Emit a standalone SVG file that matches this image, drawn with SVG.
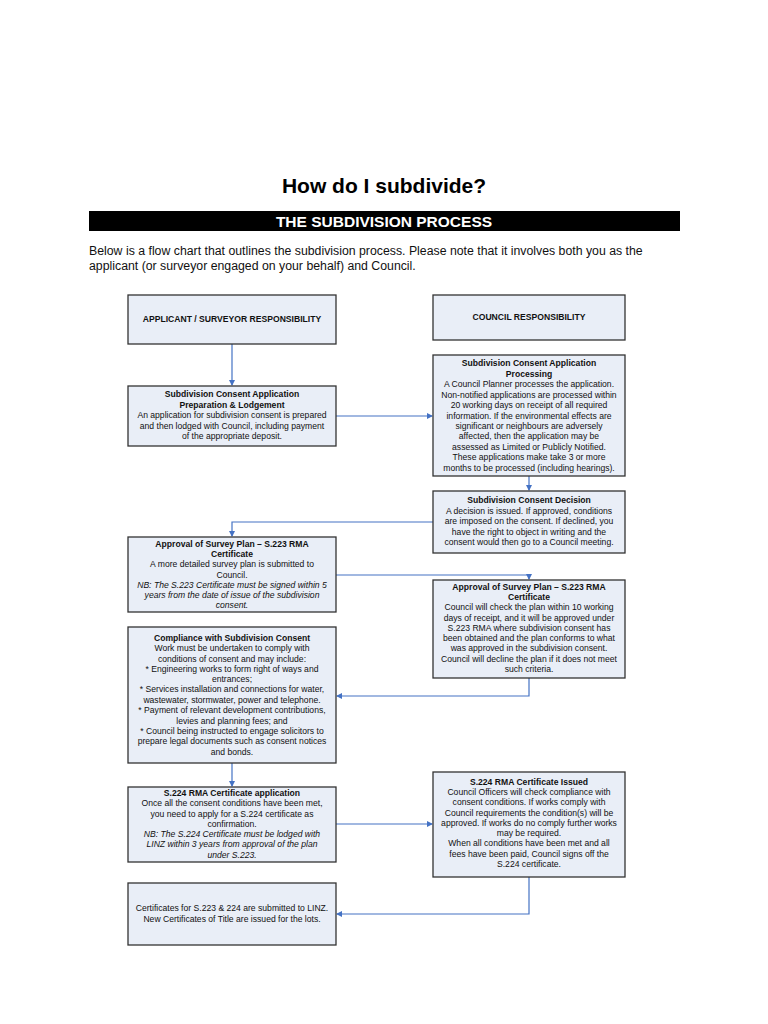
<svg xmlns="http://www.w3.org/2000/svg" width="768" height="1024" viewBox="0 0 768 1024">
<defs>
<marker id="ah" viewBox="0 0 6 6" refX="5" refY="3" markerWidth="5" markerHeight="5" orient="auto"><path d="M0,0L6,3L0,6z" fill="#4472c4"/></marker>
</defs>
<style>
.b{fill:#e9eef7;stroke:#333;stroke-width:1.3}
.t{font-family:"Liberation Sans",Arial,sans-serif;font-size:8.6px;fill:#111;text-anchor:middle}
.h{font-weight:bold}
.i{font-style:italic}
.c{fill:none;stroke:#4472c4;stroke-width:1.2;marker-end:url(#ah)}
</style>
<rect width="768" height="1024" fill="#fff"/>
<text x="384" y="193" font-family="Liberation Sans,Arial,sans-serif" font-size="21" font-weight="bold" text-anchor="middle">How do I subdivide?</text>
<rect x="89" y="211" width="591" height="20" fill="#000"/>
<text x="384" y="227" font-family="Liberation Sans,Arial,sans-serif" font-size="15.5" font-weight="bold" fill="#fff" text-anchor="middle">THE SUBDIVISION PROCESS</text>
<text font-family="Liberation Sans,Arial,sans-serif" font-size="12.3" fill="#111"><tspan x="89" y="255">Below is a flow chart that outlines the subdivision process. Please note that it involves both you as the</tspan><tspan x="89" y="270">applicant (or surveyor engaged on your behalf) and Council.</tspan></text>
<g id="connectors">
<path class="c" d="M232,344V385"/>
<path class="c" d="M336,416H432"/>
<path class="c" d="M529,476V490"/>
<path class="c" d="M433,522H232V536"/>
<path class="c" d="M336,575H529V579"/>
<path class="c" d="M529,678V696H337"/>
<path class="c" d="M232,763V786"/>
<path class="c" d="M336,824H432"/>
<path class="c" d="M529,877V914H337"/>
</g>
<g id="n1"><rect class="b" x="128" y="295" width="208" height="49"/><text class="t h" x="232" y="322">APPLICANT / SURVEYOR RESPONSIBILITY</text></g>
<g id="n2"><rect class="b" x="433" y="295" width="192" height="45"/><text class="t h" x="529" y="320">COUNCIL RESPONSIBILITY</text></g>
<g id="n3"><rect class="b" x="128" y="386" width="208" height="60"/><text class="t"><tspan class="h" x="232" y="397">Subdivision Consent Application</tspan><tspan class="h" x="232" y="407.5">Preparation &amp; Lodgement</tspan><tspan x="232" y="418">An application for subdivision consent is prepared</tspan><tspan x="232" y="428.5">and then lodged with Council, including payment</tspan><tspan x="232" y="439">of the appropriate deposit.</tspan></text></g>
<g id="n4"><rect class="b" x="433" y="355" width="192" height="121"/><text class="t"><tspan class="h" x="529" y="366">Subdivision Consent Application</tspan><tspan class="h" x="529" y="376.5">Processing</tspan><tspan x="529" y="387">A Council Planner processes the application.</tspan><tspan x="529" y="397.5">Non-notified applications are processed within</tspan><tspan x="529" y="408">20 working days on receipt of all required</tspan><tspan x="529" y="418.5">information. If the environmental effects are</tspan><tspan x="529" y="429">significant or neighbours are adversely</tspan><tspan x="529" y="439">affected, then the application may be</tspan><tspan x="529" y="449.5">assessed as Limited or Publicly Notified.</tspan><tspan x="529" y="460">These applications make take 3 or more</tspan><tspan x="529" y="470.5">months to be processed (including hearings).</tspan></text></g>
<g id="n5"><rect class="b" x="433" y="491" width="192" height="62"/><text class="t"><tspan class="h" x="529" y="503">Subdivision Consent Decision</tspan><tspan x="529" y="513.5">A decision is issued. If approved, conditions</tspan><tspan x="529" y="524">are imposed on the consent. If declined, you</tspan><tspan x="529" y="534.5">have the right to object in writing and the</tspan><tspan x="529" y="544.5">consent would then go to a Council meeting.</tspan></text></g>
<g id="n6"><rect class="b" x="128" y="537" width="208" height="75"/><text class="t"><tspan class="h" x="232" y="547">Approval of Survey Plan – S.223 RMA</tspan><tspan class="h" x="232" y="556.5">Certificate</tspan><tspan x="232" y="567">A more detailed survey plan is submitted to</tspan><tspan x="232" y="577.5">Council.</tspan><tspan class="i" x="232" y="587.5">NB: The S.223 Certificate must be signed within 5</tspan><tspan class="i" x="232" y="597.5">years from the date of issue of the subdivision</tspan><tspan class="i" x="232" y="607.5">consent.</tspan></text></g>
<g id="n7"><rect class="b" x="433" y="580" width="192" height="98"/><text class="t"><tspan class="h" x="529" y="590">Approval of Survey Plan – S.223 RMA</tspan><tspan class="h" x="529" y="599.5">Certificate</tspan><tspan x="529" y="610">Council will check the plan within 10 working</tspan><tspan x="529" y="620.5">days of receipt, and it will be approved under</tspan><tspan x="529" y="630.5">S.223 RMA where subdivision consent has</tspan><tspan x="529" y="640.5">been obtained and the plan conforms to what</tspan><tspan x="529" y="651">was approved in the subdivision consent.</tspan><tspan x="529" y="661.5">Council will decline the plan if it does not meet</tspan><tspan x="529" y="671.5">such criteria.</tspan></text></g>
<g id="n8"><rect class="b" x="128" y="627" width="208" height="136"/><text class="t"><tspan class="h" x="232" y="641">Compliance with Subdivision Consent</tspan><tspan x="232" y="651">Work must be undertaken to comply with</tspan><tspan x="232" y="661.5">conditions of consent and may include:</tspan><tspan x="232" y="671.5">* Engineering works to form right of ways and</tspan><tspan x="232" y="682">entrances;</tspan><tspan x="232" y="692">* Services installation and connections for water,</tspan><tspan x="232" y="702.5">wastewater, stormwater, power and telephone.</tspan><tspan x="232" y="713">* Payment of relevant development contributions,</tspan><tspan x="232" y="723.5">levies and planning fees; and</tspan><tspan x="232" y="733.5">*  Council being instructed to engage solicitors to</tspan><tspan x="232" y="744">prepare legal documents such as consent notices</tspan><tspan x="232" y="754.5">and bonds.</tspan></text></g>
<g id="n9"><rect class="b" x="128" y="787" width="208" height="75"/><text class="t"><tspan class="h" x="232" y="795.5">S.224 RMA Certificate application</tspan><tspan x="232" y="806">Once all the consent conditions have been met,</tspan><tspan x="232" y="816.5">you need to apply for a S.224 certificate as</tspan><tspan x="232" y="826.5">confirmation.</tspan><tspan class="i" x="232" y="836.5">NB: The S.224 Certificate must be lodged with</tspan><tspan class="i" x="232" y="847">LINZ within 3 years from approval of the plan</tspan><tspan class="i" x="232" y="857.5">under S.223.</tspan></text></g>
<g id="n10"><rect class="b" x="433" y="772" width="192" height="105"/><text class="t"><tspan class="h" x="529" y="785">S.224 RMA Certificate Issued</tspan><tspan x="529" y="795">Council Officers will check compliance with</tspan><tspan x="529" y="805">consent conditions. If works comply with</tspan><tspan x="529" y="815.5">Council requirements the condition(s) will be</tspan><tspan x="529" y="826">approved. If works do no comply further works</tspan><tspan x="529" y="836">may be required.</tspan><tspan x="529" y="846">When all conditions have been met and all</tspan><tspan x="529" y="856.5">fees have been paid, Council signs off the</tspan><tspan x="529" y="866.5">S.224 certificate.</tspan></text></g>
<g id="n11"><rect class="b" x="128" y="883" width="208" height="62"/><text class="t"><tspan x="232" y="911">Certificates for S.223 &amp; 224 are submitted to LINZ.</tspan><tspan x="232" y="921.5">New Certificates of Title are issued for the lots.</tspan></text></g>
</svg>
